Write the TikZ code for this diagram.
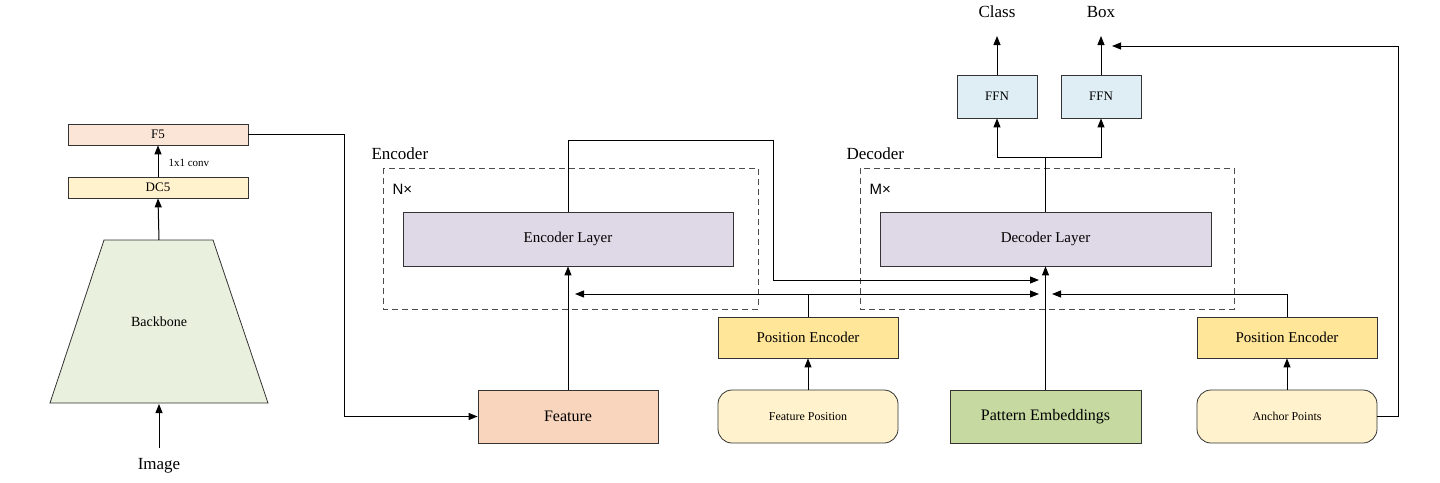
\documentclass[tikz,border=0pt]{standalone}
\usepackage{fontspec}
\setmainfont{Liberation Serif}
\newfontfamily\sansf{Liberation Sans}
\usetikzlibrary{arrows.meta}
\definecolor{cF}{HTML}{FBE5D6}
\definecolor{cDC}{HTML}{FFF2CC}
\definecolor{cBB}{HTML}{E9F0DD}
\definecolor{cLay}{HTML}{DFD8E7}
\definecolor{cFeat}{HTML}{F8D5BC}
\definecolor{cFFN}{HTML}{DEEEF4}
\definecolor{cPE}{HTML}{FFE699}
\definecolor{cPat}{HTML}{C5D9A0}
\definecolor{cPos}{HTML}{FFF2CC}
\begin{document}
\begin{tikzpicture}[x=1pt,y=-1pt,
  box/.style={draw=black!80,line width=0.8pt,inner sep=0pt},
  arr/.style={-{Triangle[length=9pt,width=7pt]},line width=1pt},
  darr/.style={{Triangle[length=9pt,width=7pt]}-{Triangle[length=9pt,width=7pt]},line width=1pt},
  ln/.style={line width=1pt},
  dashbox/.style={draw=black!70,dash pattern=on 6pt off 4pt,line width=0.8pt}]
\useasboundingbox (0,0) rectangle (1440,482);
% left
\node[box,fill=cF,minimum width=180pt,minimum height=21pt,font=\fontsize{13}{13}\selectfont] (f5) at (158,134.5) {F5};
\node[box,fill=cDC,minimum width=180pt,minimum height=21pt,font=\fontsize{13}{13}\selectfont] (dc5) at (158,187.5) {DC5};
\node[font=\fontsize{11}{11}\selectfont,anchor=west] (conv) at (165,163) {1x1 conv};
\draw[box,fill=cBB] (104,240) -- (213,240) -- (268,403) -- (50,403) -- cycle;
\node[font=\fontsize{14}{14}\selectfont] (bb) at (159,322) {Backbone};
\coordinate (bbtop) at (159,240);
\coordinate (bbbot) at (159,404);
\node[font=\fontsize{17}{17}\selectfont] (img) at (159,466) {Image};
\draw[arr] (159,448) -- (bbbot);
\draw[arr] (bbtop) -- (dc5.south);
\draw[arr] (dc5.north) -- (f5.south);
% encoder
\draw[dashbox] (383,168) rectangle (758,309);
\node[font=\fontsize{17}{17}\selectfont,anchor=west] (enc) at (368,154) {Encoder};
\node[font=\sansf\fontsize{15}{15}\selectfont,anchor=west] (nx) at (389,189) {N×};
\node[box,fill=cLay,minimum width=330pt,minimum height=54pt,font=\fontsize{15}{15}\selectfont] (el) at (568,239) {Encoder Layer};
\node[box,fill=cFeat,minimum width=180pt,minimum height=53pt,font=\fontsize{16}{16}\selectfont] (feat) at (568,416.5) {Feature};
\draw[arr] (f5.east) -- (344,134.5) -- (344,416.5) -- (feat.west);
\draw[arr] (feat.north) -- (el.south);
% decoder
\draw[dashbox] (860,168) rectangle (1234,309);
\node[font=\fontsize{17}{17}\selectfont,anchor=west] (dec) at (843,154) {Decoder};
\node[font=\sansf\fontsize{15}{15}\selectfont,anchor=west] (mx) at (866,189) {M×};
\node[box,fill=cLay,minimum width=331pt,minimum height=54pt,font=\fontsize{15}{15}\selectfont] (dl) at (1045.5,239) {Decoder Layer};
\node[box,fill=cPE,minimum width=180pt,minimum height=41pt,font=\fontsize{15}{15}\selectfont] (pe1) at (808,337.5) {Position Encoder};
\node[box,fill=cPE,minimum width=180pt,minimum height=41pt,font=\fontsize{15}{15}\selectfont] (pe2) at (1287,337.5) {Position Encoder};
\node[box,fill=cPos,rounded corners=14pt,minimum width=180pt,minimum height=53pt,font=\fontsize{12}{12}\selectfont] (fp) at (808,416.5) {Feature Position};
\node[box,fill=cPat,minimum width=191pt,minimum height=53pt,font=\fontsize{16}{16}\selectfont] (pat) at (1045.5,416.5) {Pattern Embeddings};
\node[box,fill=cPos,rounded corners=14pt,minimum width=180pt,minimum height=53pt,font=\fontsize{12}{12}\selectfont] (ap) at (1287,416.5) {Anchor Points};
\node[box,fill=cFFN,minimum width=80pt,minimum height=43pt,font=\fontsize{13}{13}\selectfont] (ffn1) at (997,96.5) {FFN};
\node[box,fill=cFFN,minimum width=80pt,minimum height=43pt,font=\fontsize{13}{13}\selectfont] (ffn2) at (1101,96.5) {FFN};
\node[font=\fontsize{17}{17}\selectfont] (cls) at (997,12) {Class};
\node[font=\fontsize{17}{17}\selectfont] (boxl) at (1101,12) {Box};
\coordinate (clsb) at (997,36);
\coordinate (boxb) at (1101,36);
\draw[arr] (ffn1.north) -- (clsb);
\draw[arr] (ffn2.north) -- (boxb);
\draw[ln] (dl.north) -- (1045.5,157);
\draw[arr] (1045.5,157) -| (ffn1.south);
\draw[arr] (1045.5,157) -| (ffn2.south);
% connections
\draw[arr] (el.north) -- (568,140) -- (773,140) -- (773,280) -- (1039,280);
\draw[darr] (575,294) -- (1039,294);
\draw[ln] (pe1.north) -- (808,294);
\draw[arr] (pe2.north) -- (1287,294) -- (1052,294);
\draw[arr] (pat.north) -- (dl.south);
\draw[arr] (fp.north) -- (pe1.south);
\draw[arr] (ap.north) -- (pe2.south);
\coordinate (boxin) at (1112,46);
\draw[arr] (ap.east) -- (1398,416.5) -- (1398,46) -- (boxin);
\end{tikzpicture}
\end{document}
